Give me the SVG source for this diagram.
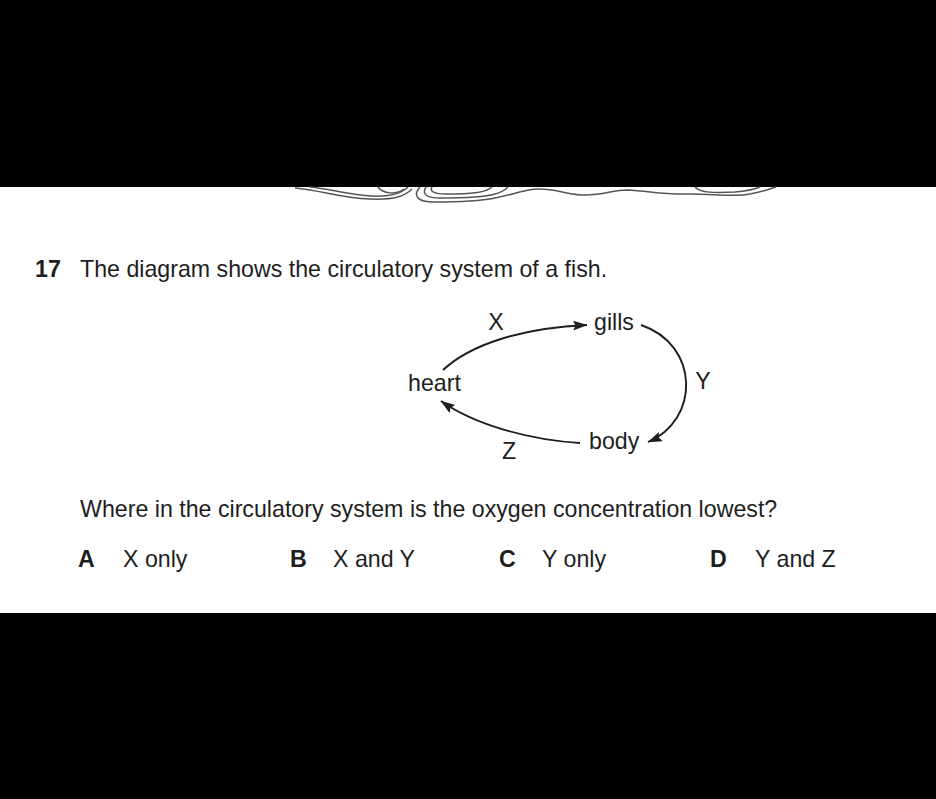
<svg xmlns="http://www.w3.org/2000/svg" width="936" height="799" viewBox="0 0 936 799">
  <style>
    text { font-family: "Liberation Sans", Arial, sans-serif; font-size: 23.2px; fill: #1e1e1e; }
    .b { font-weight: bold; }
    .lbl { text-anchor: middle; }
    .conn { fill: none; stroke: #1e1e1e; stroke-width: 1.9; }
    .deco { fill: none; stroke: #555; stroke-width: 1.5; }
  </style>
  <defs>
    <marker id="ah" markerUnits="userSpaceOnUse" markerWidth="16" markerHeight="11" refX="14" refY="5" orient="auto">
      <path d="M0,0 L14.5,5 L0,10 L2.5,5 z" fill="#1e1e1e"/>
    </marker>
  </defs>
  <rect x="0" y="0" width="936" height="799" fill="#ffffff"/>
  <rect x="0" y="0" width="936" height="187" fill="#000000"/>
  <rect x="0" y="613" width="936" height="186" fill="#000000"/>

  <g id="decoration">
    <path class="deco" d="M295,188 C320,190 340,198 370,199 C395,200 405,196 412,189"/>
    <path class="deco" d="M310,187 C330,189 350,195 372,196 C392,197 402,193 408,187"/>
    <path class="deco" d="M378,187 C383,194 396,195 404,189"/>
    <path class="deco" d="M420,187 C412,196 418,202 434,202 C460,202 480,201 495,198 C512,195 522,190 536,189 C556,188 562,194 582,195 C602,196 612,190 627,190 C650,191 662,195 690,194 C712,194 722,196 742,195 C757,194 766,190 776,187"/>
    <path class="deco" d="M426,187 C421,195 428,198 440,198 C465,198 485,197 495,194 C503,192 506,189 508,187"/>
    <path class="deco" d="M432,187 C429,192 436,194 446,194 C470,194 485,193 492,187"/>
    <path class="deco" d="M695,187 C700,193 715,193 735,192 C748,191 755,189 760,187"/>
  </g>

  <g id="question">
    <text class="b" x="35" y="277">17</text>
    <text x="80" y="277">The diagram shows the circulatory system of a fish.</text>
  </g>

  <g id="connectors">
    <path id="edge-X" class="conn" d="M443,370 C470,345 520,328 587,325" marker-end="url(#ah)"/>
    <path id="edge-Y" class="conn" d="M641,325 C700,345 700,420 648,442" marker-end="url(#ah)"/>
    <path id="edge-Z" class="conn" d="M580,443 C530,440 475,425 441,401" marker-end="url(#ah)"/>
  </g>

  <g id="node-heart"><text x="408" y="391">heart</text></g>
  <g id="node-gills"><text x="594" y="330">gills</text></g>
  <g id="node-body"><text x="589" y="449">body</text></g>

  <g id="labels">
    <text class="lbl" x="496" y="330">X</text>
    <text class="lbl" x="703" y="389">Y</text>
    <text class="lbl" x="509" y="459">Z</text>
  </g>

  <g id="prompt">
    <text x="80" y="517">Where in the circulatory system is the oxygen concentration lowest?</text>
  </g>

  <g id="options">
    <text class="b" x="78" y="567">A</text>
    <text x="123" y="567">X only</text>
    <text class="b" x="290" y="567">B</text>
    <text x="333" y="567">X and Y</text>
    <text class="b" x="499" y="567">C</text>
    <text x="542" y="567">Y only</text>
    <text class="b" x="710" y="567">D</text>
    <text x="755" y="567">Y and Z</text>
  </g>
</svg>
